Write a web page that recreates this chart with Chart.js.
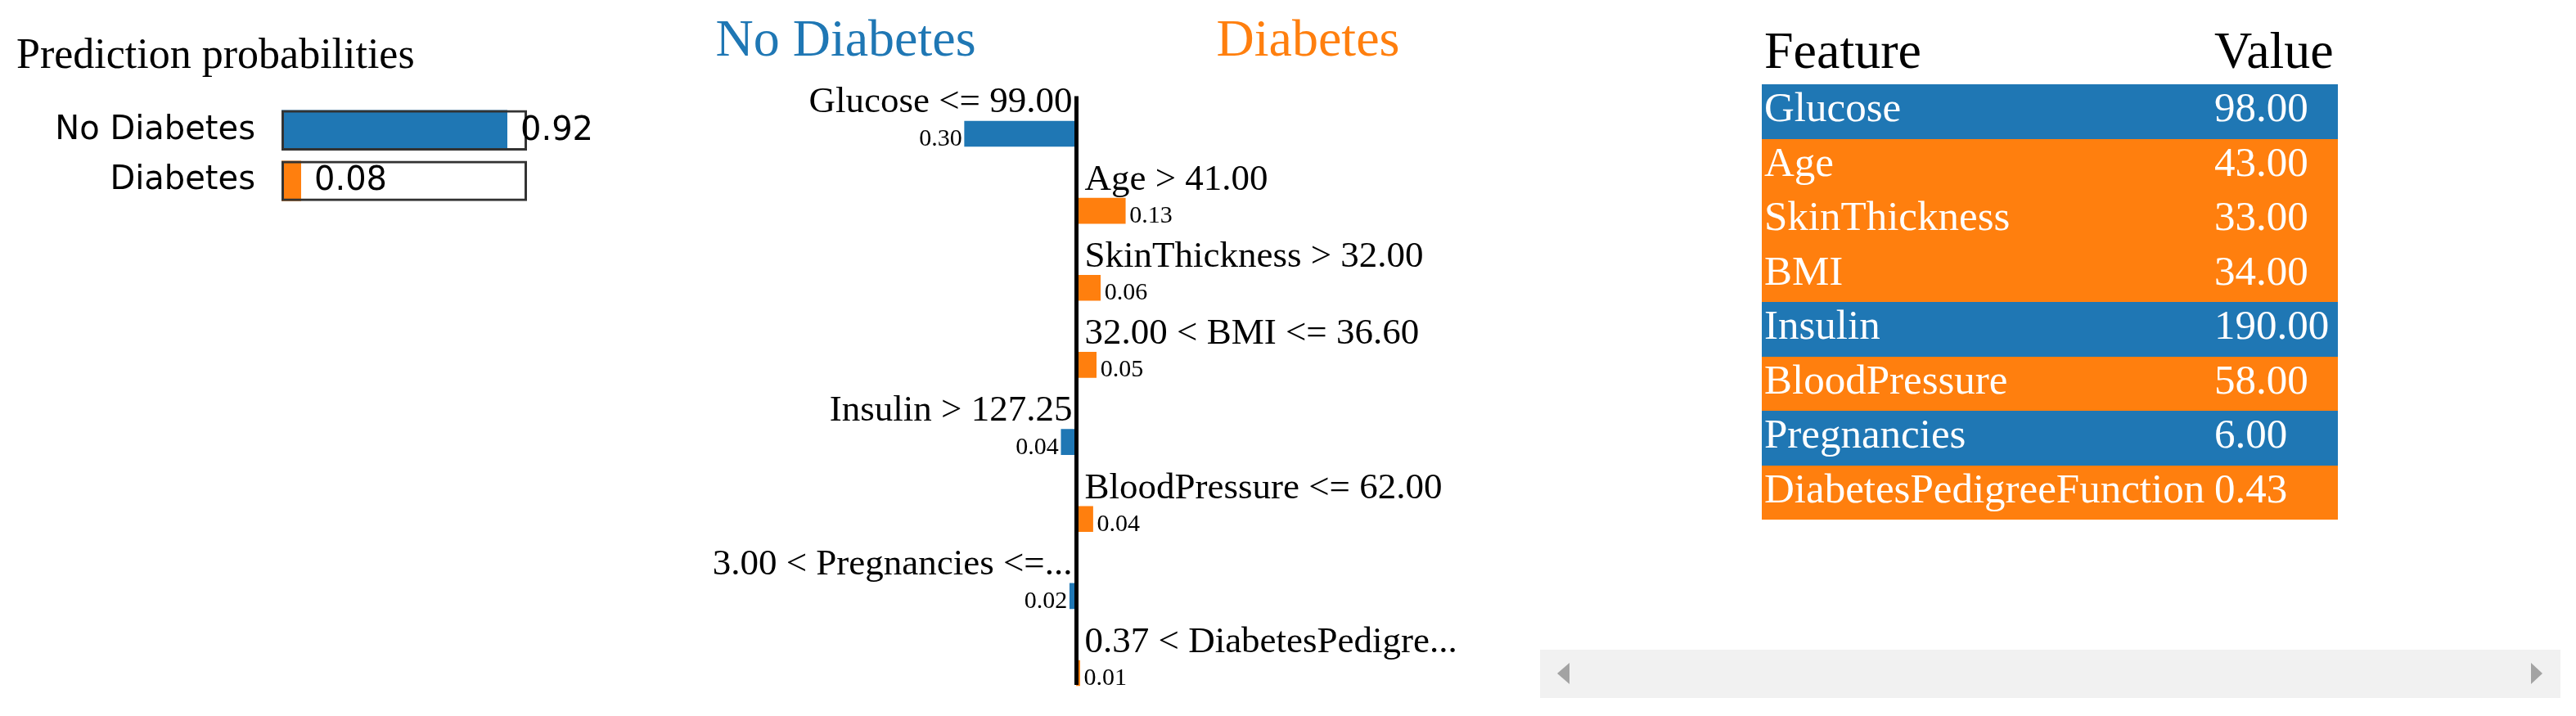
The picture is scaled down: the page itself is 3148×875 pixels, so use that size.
<!DOCTYPE html>
<html>
<head>
<meta charset="utf-8">
<script src="https://cdn.jsdelivr.net/npm/chart.js@4.4.1/dist/chart.umd.min.js"></script>
<style>
    body { margin: 0; width: 3148px; height: 875px; background: #fff; overflow: hidden; position: relative; }
    #probaChart { position: absolute; left: 0; top: 0; }
    #explainChart { position: absolute; left: 800px; top: 0; }
    #featureTable { position: absolute; left: 2153px; top: 26px; border-collapse: collapse; font-family: "Liberation Serif", "Times New Roman", serif; }
    #featureTable th { font-weight: normal; font-size: 64px; line-height: 71px; padding: 0 0 6px 3px; text-align: left; color: #000; }
    #featureTable td { font-size: 51px; line-height: 56px; padding: 0 0 10.5px 3px; vertical-align: top; color: #fff; white-space: nowrap; }
    #featureTable td.name { width: 547px; }
    #featureTable td.val { width: 151px; }
    #scrollBar { position: absolute; left: 1882px; top: 794px; width: 1247px; height: 59px; background: #f1f1f1; }
    .arrowL { position: absolute; left: 21px; top: 16px; width: 0; height: 0; border-top: 13.5px solid transparent; border-bottom: 13.5px solid transparent; border-right: 15px solid #a3a3a3; }
    .arrowR { position: absolute; right: 22px; top: 16px; width: 0; height: 0; border-top: 13.5px solid transparent; border-bottom: 13.5px solid transparent; border-left: 14px solid #a3a3a3; }
</style>
</head>
<body>
<canvas id="probaChart" width="800" height="300"></canvas>
<canvas id="explainChart" width="1100" height="875"></canvas>
<table id="featureTable"><thead><tr><th>Feature</th><th>Value</th></tr></thead><tbody id="featureRows"></tbody></table>
<div id="scrollBar"><div class="arrowL"></div><div class="arrowR"></div></div>

<script>
// colours used by LIME
var blue = '#1f77b4';
var orange = '#ff7f0e';

// prediction probabilities
var classNames = ['No Diabetes', 'Diabetes'];
var classProbs = [0.92, 0.08];

// explanation weights (negative = No Diabetes, positive = Diabetes)
var ruleLabels = ['Glucose <= 99.00', 'Age > 41.00', 'SkinThickness > 32.00', '32.00 < BMI <= 36.60',
    'Insulin > 127.25', 'BloodPressure <= 62.00', '3.00 < Pregnancies <=...', '0.37 < DiabetesPedigre...'];
var ruleWeights = [-0.30, 0.131, 0.064, 0.053, -0.041, 0.044, -0.018, 0.009];

// feature table
var featureNames = ['Glucose', 'Age', 'SkinThickness', 'BMI', 'Insulin', 'BloodPressure', 'Pregnancies', 'DiabetesPedigreeFunction'];
var featureValues = ['98.00', '43.00', '33.00', '34.00', '190.00', '58.00', '6.00', '0.43'];

var serif = '"Liberation Serif", "Times New Roman", serif';
var sans = '"DejaVu Sans", Verdana, sans-serif';

// ---- Prediction probabilities chart ----
var probaText = {
    id: 'probaText',
    afterDatasetsDraw: function(chart) {
        var ctx = chart.ctx;
        var meta = chart.getDatasetMeta(0);
        ctx.save();
        ctx.font = '40px ' + sans;
        ctx.fillStyle = '#000';
        ctx.textAlign = 'left';
        ctx.textBaseline = 'middle';
        meta.data.forEach(function(bar, i) {
            ctx.fillText(classProbs[i].toFixed(2), bar.x + 16, bar.y + 1);
        });
        ctx.restore();
    }
};

new Chart(document.getElementById('probaChart'), {
    type: 'bar',
    data: {
        labels: classNames,
        datasets: [{
            data: classProbs,
            backgroundColor: [blue, orange],
            borderWidth: 0,
            grouped: false,
            order: 2
        }, {
            // outline box for each class
            data: classNames.map(function() { return 1; }),
            backgroundColor: 'rgba(0,0,0,0)',
            borderColor: '#333',
            borderWidth: 3,
            borderSkipped: false,
            grouped: false,
            order: 1
        }]
    },
    options: {
        indexAxis: 'y',
        responsive: false,
        animation: false,
        events: [],
        barPercentage: 0.8,
        categoryPercentage: 1,
        layout: { padding: { left: 20, top: 0, right: 156, bottom: 32 } },
        plugins: {
            legend: { display: false },
            tooltip: { enabled: false },
            title: {
                display: true,
                text: 'Prediction probabilities',
                align: 'start',
                color: '#000',
                font: { family: serif, size: 52, weight: 'normal' },
                padding: { top: 38, bottom: 28 }
            }
        },
        scales: {
            x: { display: false, min: 0, max: 1 },
            y: {
                grid: { display: false },
                border: { display: false },
                ticks: { color: '#000', padding: 24, font: { family: sans, size: 40 } },
                afterFit: function(scale) { scale.width = 324; }
            }
        }
    },
    plugins: [probaText]
});

// ---- Explanation chart ----
var explainText = {
    id: 'explainText',
    afterDatasetsDraw: function(chart) {
        var ctx = chart.ctx;
        var meta = chart.getDatasetMeta(0);
        var x0 = chart.scales.x.getPixelForValue(0);
        ctx.save();

        // class headers
        ctx.font = '64px ' + serif;
        ctx.textAlign = 'center';
        ctx.textBaseline = 'alphabetic';
        ctx.fillStyle = blue;
        ctx.fillText(classNames[0], x0 - 282, 68);
        ctx.fillStyle = orange;
        ctx.fillText(classNames[1], x0 + 283, 68);

        var lastBottom = 0;
        meta.data.forEach(function(bar, i) {
            var w = ruleWeights[i];
            var top = bar.y - bar.height / 2;
            var bottom = bar.y + bar.height / 2;
            lastBottom = bottom;
            ctx.fillStyle = '#000';
            ctx.font = '45px ' + serif;
            if (w >= 0) {
                ctx.textAlign = 'left';
                ctx.fillText(ruleLabels[i], x0 + 10, top - 10);
            } else {
                ctx.textAlign = 'right';
                ctx.fillText(ruleLabels[i], x0 - 5, top - 11);
            }
            ctx.font = '30px ' + serif;
            var t = Math.abs(w).toFixed(2);
            if (w >= 0) {
                ctx.textAlign = 'left';
                ctx.fillText(t, Math.max(bar.x, x0 + 3) + 5, bottom - 1);
            } else {
                ctx.textAlign = 'right';
                ctx.fillText(t, bar.x - 3, bottom - 1);
            }
        });

        // zero line
        ctx.strokeStyle = '#000';
        ctx.lineWidth = 5;
        ctx.beginPath();
        ctx.moveTo(x0, chart.chartArea.top + 1);
        ctx.lineTo(x0, lastBottom - 1);
        ctx.stroke();
        ctx.restore();
    }
};

new Chart(document.getElementById('explainChart'), {
    type: 'bar',
    data: {
        labels: ruleLabels,
        datasets: [{
            data: ruleWeights,
            backgroundColor: ruleWeights.map(function(w) { return w < 0 ? blue : orange; }),
            borderWidth: 0,
            barThickness: 31
        }]
    },
    options: {
        indexAxis: 'y',
        responsive: false,
        animation: false,
        events: [],
        layout: { padding: { left: 287.5, right: 356.5, top: 116.4, bottom: 5.4 } },
        plugins: {
            legend: { display: false },
            tooltip: { enabled: false }
        },
        scales: {
            x: { display: false, min: -0.5, max: 0.5 },
            y: { display: false }
        }
    },
    plugins: [explainText]
});

// ---- Feature value table ----
var rowsHTML = '';
featureNames.forEach(function(name, i) {
    var colour = ruleWeights[i] < 0 ? blue : orange; // row colour follows the weight sign
    rowsHTML += "<tr style='background:" + colour + "'><td class='name'>" + name + "</td><td class='val'>" + featureValues[i] + "</td></tr>";
});
document.getElementById('featureRows').innerHTML = rowsHTML;
</script>
</body>
</html>
